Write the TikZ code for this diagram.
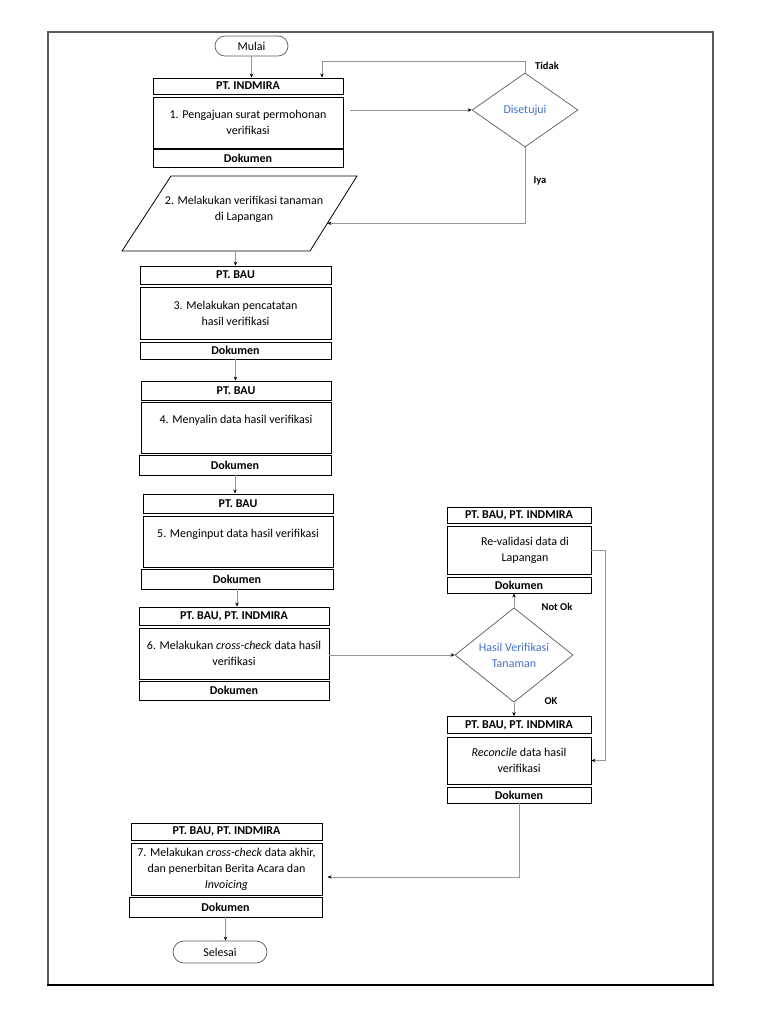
\documentclass[tikz,border=0pt]{standalone}
\usepackage{fontspec}
\setmainfont{Carlito}
\usetikzlibrary{shapes.geometric,shapes.misc,arrows.meta,calc}
\definecolor{linegray}{RGB}{150,150,150}
\definecolor{diagray}{RGB}{90,90,90}
\definecolor{textblue}{RGB}{68,114,196}

\begin{document}
\begin{tikzpicture}
[
    x=1pt, y=-1pt,
    font=\fontsize{12}{16}\selectfont,
    box/.style={draw, line width=0.9pt, rectangle, inner sep=0pt, align=center},
    hdr/.style={box, font=\fontsize{12}{16}\selectfont\bfseries},
    term/.style={draw=diagray, rounded rectangle, line width=0.7pt, inner sep=0pt},
    decision/.style={draw=diagray, diamond, line width=0.7pt, inner sep=0pt, text=textblue, align=center},
    conn/.style={draw=linegray, line width=0.8pt, -{Stealth[length=4pt,width=3.5pt,color=black]}},
    answer/.style={font=\fontsize{10.5}{12}\selectfont\bfseries}
]
    \useasboundingbox (0,0) rectangle (768,1024);
    \draw[diagray, line width=1.4pt] (48,32) rectangle (713,985);
    \draw[black, line width=2.5pt] (47,985) -- (714,985);

    % start
    \node [term, minimum width=73pt, minimum height=20pt] (mulai) at (251.5,46) {Mulai};

    % 1
    \node [hdr, minimum width=190pt, minimum height=16pt] (h1) at (248,86) {PT. INDMIRA};
    \node [box, minimum width=190pt, minimum height=51pt] (b1) at (248,122.5) {1. Pengajuan surat permohonan\\verifikasi};
    \node [hdr, minimum width=190pt, minimum height=18pt] (d1) at (248,158) {Dokumen};

    \node [decision, minimum width=106pt, minimum height=74pt] (dis) at (525,110) {Disetujui};

    % 2 (parallelogram)
    \coordinate (ptl) at (171,176);
    \coordinate (ptr) at (357,176);
    \coordinate (pbr) at (310,251);
    \coordinate (pbl) at (122,251);
    \draw [line width=0.8pt] (ptl) -- (ptr) -- (pbr) -- (pbl) -- cycle;
    \node [align=center] (p2) at (244,209) {2. Melakukan verifikasi tanaman\\di Lapangan};

    % 3
    \node [hdr, minimum width=191pt, minimum height=18pt] (h3) at (235.5,275) {PT. BAU};
    \node [box, minimum width=191pt, minimum height=52pt] (b3) at (235.5,313) {3. Melakukan pencatatan\\hasil verifikasi};
    \node [hdr, minimum width=191pt, minimum height=17pt] (d3) at (235.5,350.5) {Dokumen};

    % 4
    \node [hdr, minimum width=190pt, minimum height=19pt] (h4) at (236,390.5) {PT. BAU};
    \node [box, minimum width=190pt, minimum height=51pt] (b4) at (236,427.5) {4. Menyalin data hasil verifikasi\\ };
    \node [hdr, minimum width=192pt, minimum height=20pt] (d4) at (235,465) {Dokumen};

    % 5
    \node [hdr, minimum width=190pt, minimum height=19pt] (h5) at (238,503.5) {PT. BAU};
    \node [box, minimum width=190pt, minimum height=51pt] (b5) at (238,541.5) {5. Menginput data hasil verifikasi\\ };
    \node [hdr, minimum width=192pt, minimum height=20pt] (d5) at (237,579) {Dokumen};

    % 6
    \node [hdr, minimum width=190pt, minimum height=18pt] (h6) at (234,616) {PT. BAU, PT. INDMIRA};
    \node [box, minimum width=190pt, minimum height=51pt] (b6) at (234,653.5) {6. Melakukan \textit{cross-check} data hasil\\verifikasi};
    \node [hdr, minimum width=190pt, minimum height=19pt] (d6) at (234,690.5) {Dokumen};

    \node [decision, minimum width=118pt, minimum height=78pt] (hasil) at (514,655) {Hasil Verifikasi\\Tanaman};

    % re-validasi
    \node [hdr, minimum width=144pt, minimum height=16pt] (h8) at (519,515) {PT. BAU, PT. INDMIRA};
    \node [box, minimum width=144pt, minimum height=48pt] (b8) at (519,550) {\hspace*{12pt}Re-validasi data di\\\hspace*{12pt}Lapangan};
    \node [hdr, minimum width=144pt, minimum height=16pt] (d8) at (519,585) {Dokumen};

    % reconcile
    \node [hdr, minimum width=144pt, minimum height=17pt] (h9) at (519,725) {PT. BAU, PT. INDMIRA};
    \node [box, minimum width=144pt, minimum height=47pt] (b9) at (519,760.5) {\textit{Reconcile} data hasil\\verifikasi};
    \node [hdr, minimum width=144pt, minimum height=16pt] (d9) at (519,795) {Dokumen};

    % 7
    \node [hdr, minimum width=191pt, minimum height=17pt] (h7) at (226.5,831.5) {PT. BAU, PT. INDMIRA};
    \node [box, minimum width=191pt, minimum height=52pt] (b7) at (226.5,869) {7. Melakukan \textit{cross-check} data akhir,\\dan penerbitan Berita Acara dan\\\textit{Invoicing}};
    \node [hdr, minimum width=193pt, minimum height=20pt] (d7) at (225.5,907) {Dokumen};

    % end
    \node [term, minimum width=94pt, minimum height=22pt] (selesai) at (220,952) {Selesai};

    % answers
    \node [answer] (tidak) at (547,66) {Tidak};
    \node [answer] (iya) at (540,181) {Iya};
    \node [answer] (notok) at (557,607) {Not Ok};
    \node [answer] (ok) at (551,701) {OK};

    % connectors
    \coordinate (p2in) at ($(ptr)!0.63!(pbr)$);
    \draw [conn] (mulai.south) -- (mulai.south |- h1.north);
    \draw [conn, shorten <=7pt] (b1.east |- dis.west) -- (dis.west);
    \draw [conn] (dis.north) -- ++(0,-11) -| ([xshift=74pt]h1.north);
    \draw [conn] (dis.south) |- (p2in);
    \draw [conn] (h3.north |- pbl) -- (h3.north);
    \draw [conn] (d3.south) -- (d3.south |- h4.north);
    \draw [conn] (d4.south) -- (d4.south |- h5.north);
    \draw [conn] (d5.south) -- (d5.south |- h6.north);
    \draw [conn] (b6.east |- hasil.west) -- (hasil.west);
    \draw [conn] (hasil.north) -- (hasil.north |- d8.south);
    \draw [conn] (hasil.south) -- (hasil.south |- h9.north);
    \draw [conn] (b8.east) -- ++(14,0) |- (b9.east);
    \draw [conn, shorten >=5pt] (d9.south) |- ([yshift=-8pt]b7.east);
    \draw [conn] (d7.south) -- (d7.south |- selesai.north);
\end{tikzpicture}
\end{document}
